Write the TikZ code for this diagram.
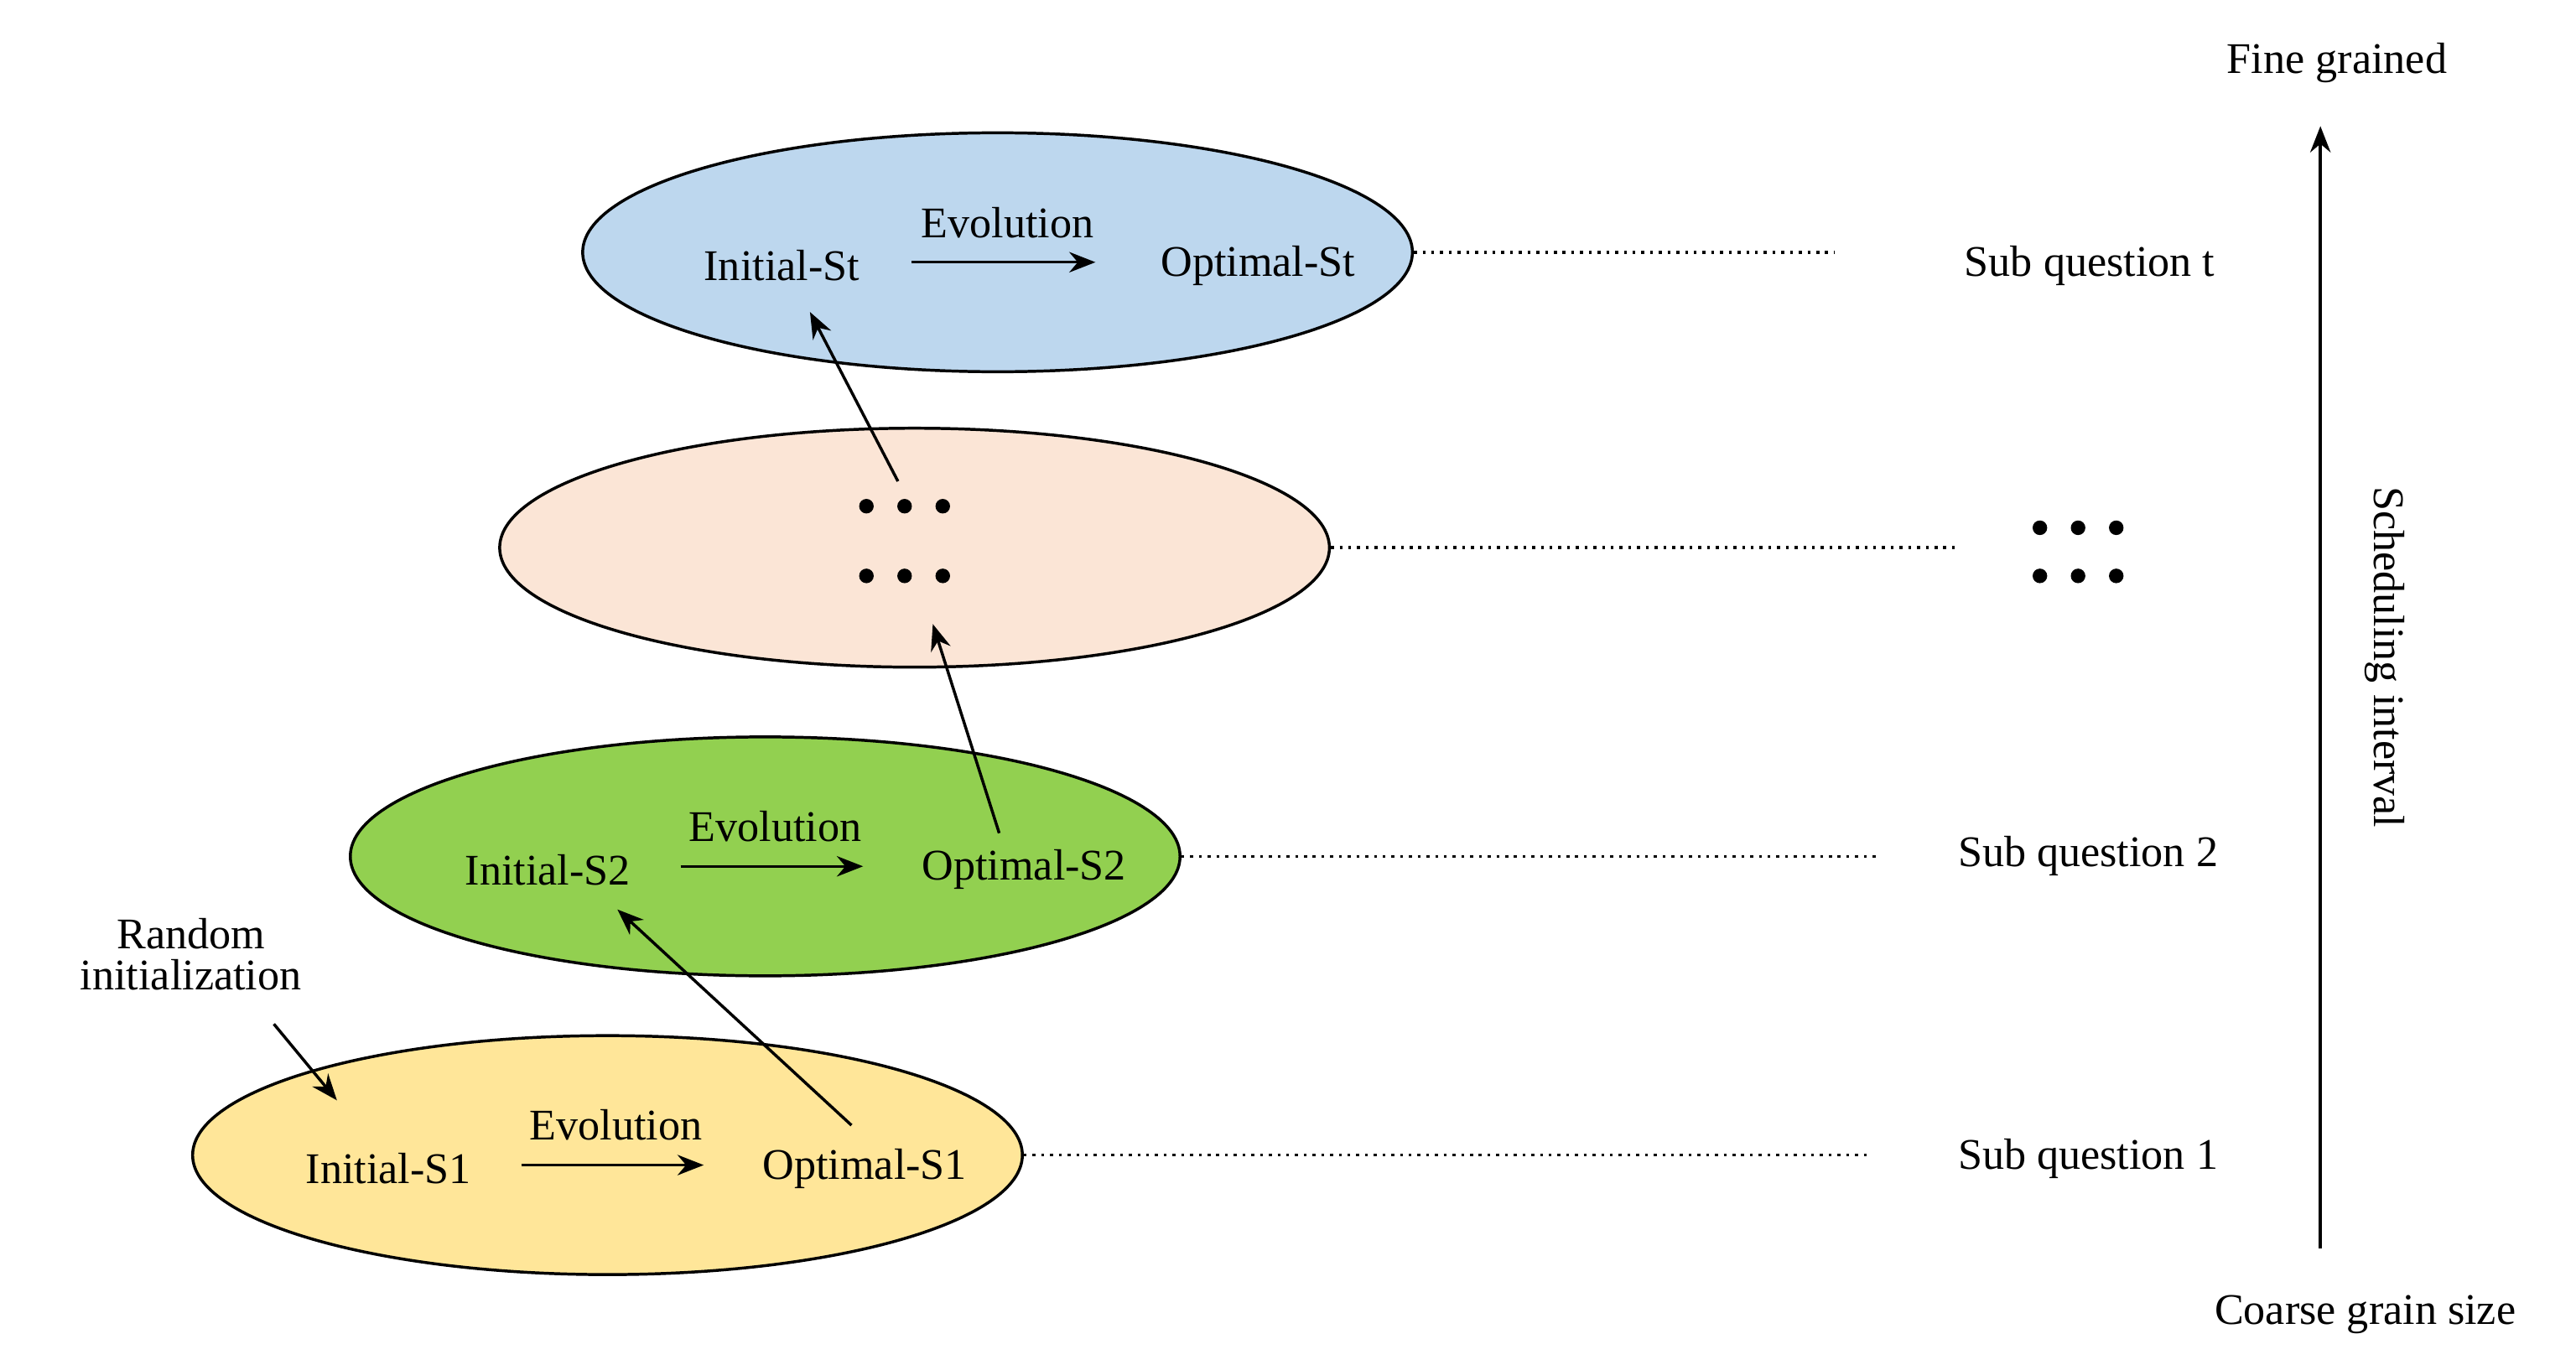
\documentclass[tikz,border=0pt]{standalone}
\usepackage{fontspec}
\setmainfont{Liberation Serif}
\usetikzlibrary{arrows.meta,shapes.geometric}
\definecolor{cblue}{HTML}{BDD7EE}
\definecolor{cpeach}{HTML}{FBE5D6}
\definecolor{cgreen}{HTML}{92D050}
\definecolor{cyellow}{HTML}{FFE699}
\begin{document}
\begin{tikzpicture}[x=0.02cm,y=-0.02cm,
  every node/.style={font=\fontsize{15}{17}\selectfont},
  ell/.style={draw,line width=1pt,ellipse,minimum width=10cm,minimum height=2.88cm,inner sep=0pt},
  arr/.style={-{Stealth[length=9pt,width=7pt]},line width=1pt},
  dot/.style={dotted,line width=1pt},
  pt/.style={circle,fill,inner sep=0pt,minimum size=5pt}]
\useasboundingbox (0,0) rectangle (1552,822);
\node[ell,fill=cblue] (e4) at (601,152) {};
\node[ell,fill=cpeach] (e3) at (551,330) {};
\node[ell,fill=cgreen] (e2) at (461,516) {};
\node[ell,fill=cyellow] (e1) at (366,696) {};
% top
\node (i4) at (471,160) {Initial-St};
\node (v4) at (607,134) {Evolution};
\node (o4) at (758,160) {Optimal-St};
\coordinate (a4s) at (549,158); \coordinate (a4e) at (660,158);
\draw[arr] (a4s) -- (a4e);
% peach dots
\foreach \x in {522,545,568}{\node[pt] at (\x,305){}; \node[pt] at (\x,347){};}
% green
\node (i2) at (330,524) {Initial-S2};
\node (v2) at (467,498) {Evolution};
\node (o2) at (617,524) {Optimal-S2};
\coordinate (a2s) at (410,522); \coordinate (a2e) at (520,522);
\draw[arr] (a2s) -- (a2e);
% yellow
\node (i1) at (234,704) {Initial-S1};
\node (v1) at (371,678) {Evolution};
\node (o1) at (521,704) {Optimal-S1};
\coordinate (a1s) at (314,702); \coordinate (a1e) at (424,702);
\draw[arr] (a1s) -- (a1e);
\node[align=center] (ri) at (115,575) {Random\\[-3pt]initialization};
\coordinate (rs) at (165,617); \coordinate (re) at (203,663);
\draw[arr] (rs) -- (re);
% inter arrows
\coordinate (b1s) at (513,678); \coordinate (b1e) at (372,548);
\draw[arr] (b1s) -- (b1e);
\coordinate (b2s) at (602,502); \coordinate (b2e) at (562,376);
\draw[arr] (b2s) -- (b2e);
\coordinate (b3s) at (541,290); \coordinate (b3e) at (488,188);
\draw[arr] (b3s) -- (b3e);
% dotted
\coordinate (d4) at (1105,152); \draw[dot] (e4.east) -- (d4);
\coordinate (d3) at (1178,330); \draw[dot] (e3.east) -- (d3);
\coordinate (d2) at (1130,516); \draw[dot] (e2.east) -- (d2);
\coordinate (d1) at (1125,696); \draw[dot] (e1.east) -- (d1);
% right labels
\node (q4) at (1259,160) {Sub question t};
\foreach \x in {1229,1252,1275}{\node[pt] at (\x,318){}; \node[pt] at (\x,347){};}
\node (q2) at (1258,516) {Sub question 2};
\node (q1) at (1258,698) {Sub question 1};
% axis
\node (fg) at (1408,38) {Fine grained};
\node (cg) at (1425,792) {Coarse grain size};
\coordinate (ax1) at (1398,752); \coordinate (ax2) at (1398,76);
\draw[arr] (ax1) -- (ax2);
\node[rotate=-90] (si) at (1437,396) {Scheduling interval};
\end{tikzpicture}
\end{document}
